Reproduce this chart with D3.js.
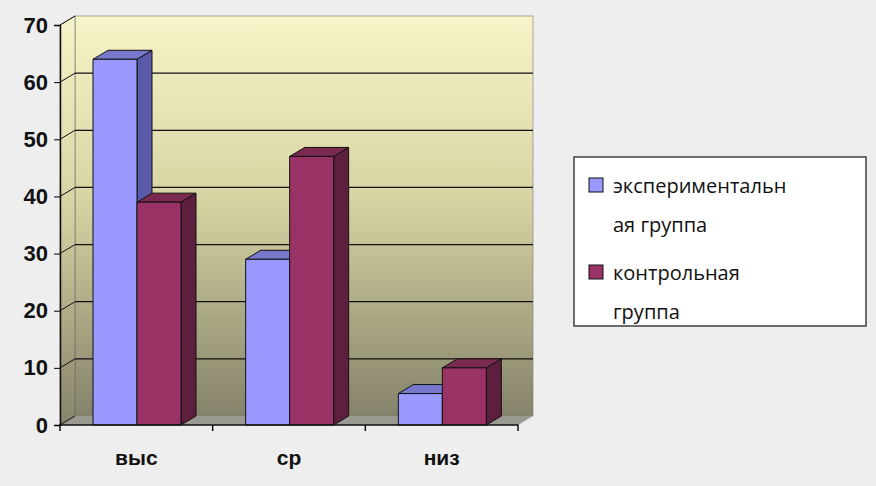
<!DOCTYPE html>
<html><head><meta charset="utf-8">
<script src="https://cdn.jsdelivr.net/npm/d3@7"></script>
<style>
body{margin:0;background:#eeeeee;}
svg{display:block;font-family:"Open Sans",sans-serif;}
</style></head><body>
<svg id="chart" width="876" height="486"></svg>
<script>
const categories = ['выс', 'ср', 'низ'];
const seriesNames = ['экспериментальная группа', 'контрольная группа'];
const experimental = [64, 29, 5.5];
const control = [39, 47, 10];
const yTicks = [0, 10, 20, 30, 40, 50, 60, 70];

const svg = d3.select('#chart');
const DX = 15, DY = -9; // depth offset
const x0 = 60, x1 = 518;
const y = d3.scaleLinear().domain([0, 70]).range([425, 25]);
const xc = d3.scaleBand().domain(categories).range([x0, x1]);
const xs = d3.scaleBand().domain([0, 1]).range([0, 88]);

const defs = svg.append('defs');
const grad = defs.append('linearGradient').attr('id', 'wall').attr('x1', 0).attr('y1', 0).attr('x2', 0).attr('y2', 1);
grad.append('stop').attr('offset', 0).attr('stop-color', '#f6f4c8');
grad.append('stop').attr('offset', 0.45).attr('stop-color', '#d8d5a4');
grad.append('stop').attr('offset', 1).attr('stop-color', '#85836a');

// back wall + side wall + floor
const yTop = y(70), bot = y(0);
svg.append('rect').attr('x', x0 + DX).attr('y', yTop + DY).attr('width', x1 - x0).attr('height', bot - yTop)
  .attr('fill', 'url(#wall)').attr('stroke', '#777').attr('stroke-width', 0.6);
svg.append('path').attr('d', `M${x0},${yTop}L${x0 + DX},${yTop + DY}L${x0 + DX},${bot + DY}L${x0},${bot}Z`)
  .attr('fill', 'url(#wall)').attr('stroke', '#666').attr('stroke-width', 0.6);
svg.append('path').attr('d', `M${x0},${bot}L${x0 + DX},${bot + DY}L${x1 + DX},${bot + DY}L${x1},${bot}Z`)
  .attr('fill', '#9a9a90');

// gridlines
yTicks.forEach(t => {
  if (t > 0 && t < 70) svg.append('line').attr('x1', x0 + DX).attr('x2', x1 + DX)
    .attr('y1', y(t) + DY).attr('y2', y(t) + DY).attr('stroke', '#111').attr('stroke-width', 1.3);
  svg.append('line').attr('x1', x0).attr('x2', x0 + DX).attr('y1', y(t)).attr('y2', y(t) + DY)
    .attr('stroke', '#111').attr('stroke-width', 1);
});

// bars
const series = [
  {vals: experimental, front: '#9999ff', side: '#5a5aa8', topc: '#7777cc'},
  {vals: control, front: '#993366', side: '#5c1f3d', topc: '#7a2950'}
];
series.forEach((s, si) => {
  categories.forEach((c, i) => {
    const bx = xc(c) + 33 + xs(si), bw = xs.bandwidth(), by = y(s.vals[i]);
    const g = svg.append('g').attr('stroke', '#111').attr('stroke-width', 1).attr('stroke-linejoin', 'round');
    g.append('path').attr('d', `M${bx + bw},${by}L${bx + bw + DX},${by + DY}L${bx + bw + DX},${bot + DY}L${bx + bw},${bot}Z`).attr('fill', s.side);
    g.append('path').attr('d', `M${bx},${by}L${bx + DX},${by + DY}L${bx + bw + DX},${by + DY}L${bx + bw},${by}Z`).attr('fill', s.topc);
    g.append('rect').attr('x', bx).attr('y', by).attr('width', bw).attr('height', bot - by).attr('fill', s.front);
  });
});

// axes
const yAxis = svg.append('g').attr('transform', `translate(${x0},0)`)
  .call(d3.axisLeft(y).tickValues(yTicks).tickSize(6).tickPadding(6));
yAxis.select('.domain').attr('stroke', '#111').attr('stroke-width', 1.5);
yAxis.selectAll('text').attr('font-size', 22).attr('font-weight', 600).attr('fill', '#111');
const xAxis = svg.append('g').attr('transform', `translate(0,${bot})`)
  .call(d3.axisBottom(xc).tickSize(0).tickPadding(25));
xAxis.select('.domain').attr('stroke', '#111').attr('stroke-width', 1.5).attr('d', `M${x0},6V0H${x1}V6`);
xAxis.selectAll('text').attr('font-size', 21).attr('font-weight', 600).attr('fill', '#111');
[1, 2].forEach(i => svg.append('line').attr('x1', x0 + i * xc.step()).attr('x2', x0 + i * xc.step())
  .attr('y1', bot).attr('y2', bot + 6).attr('stroke', '#111').attr('stroke-width', 1.5));

// legend
const lg = svg.append('g');
lg.append('rect').attr('x', 574).attr('y', 157).attr('width', 292).attr('height', 169)
  .attr('fill', '#fff').attr('stroke', '#111').attr('stroke-width', 1.2);
const legendLines = [['экспериментальн', 'ая группа'], ['контрольная', 'группа']];
legendLines.forEach((lines, i) => {
  const yy = 178 + i * 87;
  lg.append('rect').attr('x', 589).attr('y', yy).attr('width', 14).attr('height', 14)
    .attr('fill', series[i].front).attr('stroke', '#111');
  lines.forEach((t, j) => lg.append('text').attr('x', 613).attr('y', yy + 15 + j * 39)
    .attr('font-size', 20).attr('font-weight', 500).attr('fill', '#111').text(t));
});
</script></body></html>
